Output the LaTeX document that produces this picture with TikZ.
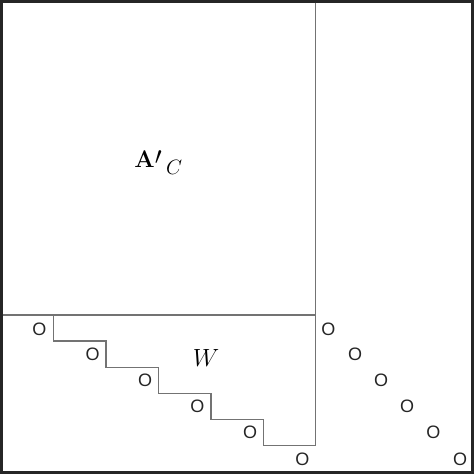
\documentclass[tikz,border=0pt]{standalone}
\usepackage{fontspec}
\newfontfamily\osans{Liberation Sans}
\tikzset{
  gline/.style={draw=black!55, line width=1.1pt},
  omark/.style={font=\osans\fontsize{18}{18}\selectfont, inner sep=0pt, text=black!85},
}
\begin{document}
\begin{tikzpicture}[x=1pt,y=-1pt]
\useasboundingbox (0,0) rectangle (474,474);
\fill[black!85] (0,0) rectangle (474,474);
\fill[white] (2.6,2.6) rectangle (471,471);
% block lines
\draw[gline] (315.7,2.6) -- (315.7,445.7);
\draw[gline] (2.6,315) -- (315.7,315);
\draw[gline] (53.3,315) |- (106,341) |- (158.3,367.7) |- (211,393.7) |- (263.3,419.5) |- (315.7,445.7);
% labels
\node[inner sep=0pt, anchor=base, font=\fontsize{24}{24}\selectfont] (A) at (148,167.7) {\textbf{A}\raisebox{0.3ex}{$\prime$}};
\node[inner sep=0pt, anchor=base west, font=\fontsize{22}{22}\selectfont] (C) at (166,174.5) {$C$};
\node[inner sep=0pt, anchor=base, font=\fontsize{33}{33}\selectfont] (W) at (206,366) {$W$};
% circles
\foreach \i/\x/\y in {1/39.3/329.3, 2/92.7/354, 3/145/380.3, 4/197.3/406.7, 5/250/432.7, 6/302.3/459.3}
  \node[omark] (l\i) at (\x,\y) {O};
\foreach \i/\x/\y in {1/328.3/329, 2/355/354, 3/381/380.3, 4/407/406.7, 5/433.3/432.7, 6/460/459}
  \node[omark] (r\i) at (\x,\y) {O};
\end{tikzpicture}
\end{document}
